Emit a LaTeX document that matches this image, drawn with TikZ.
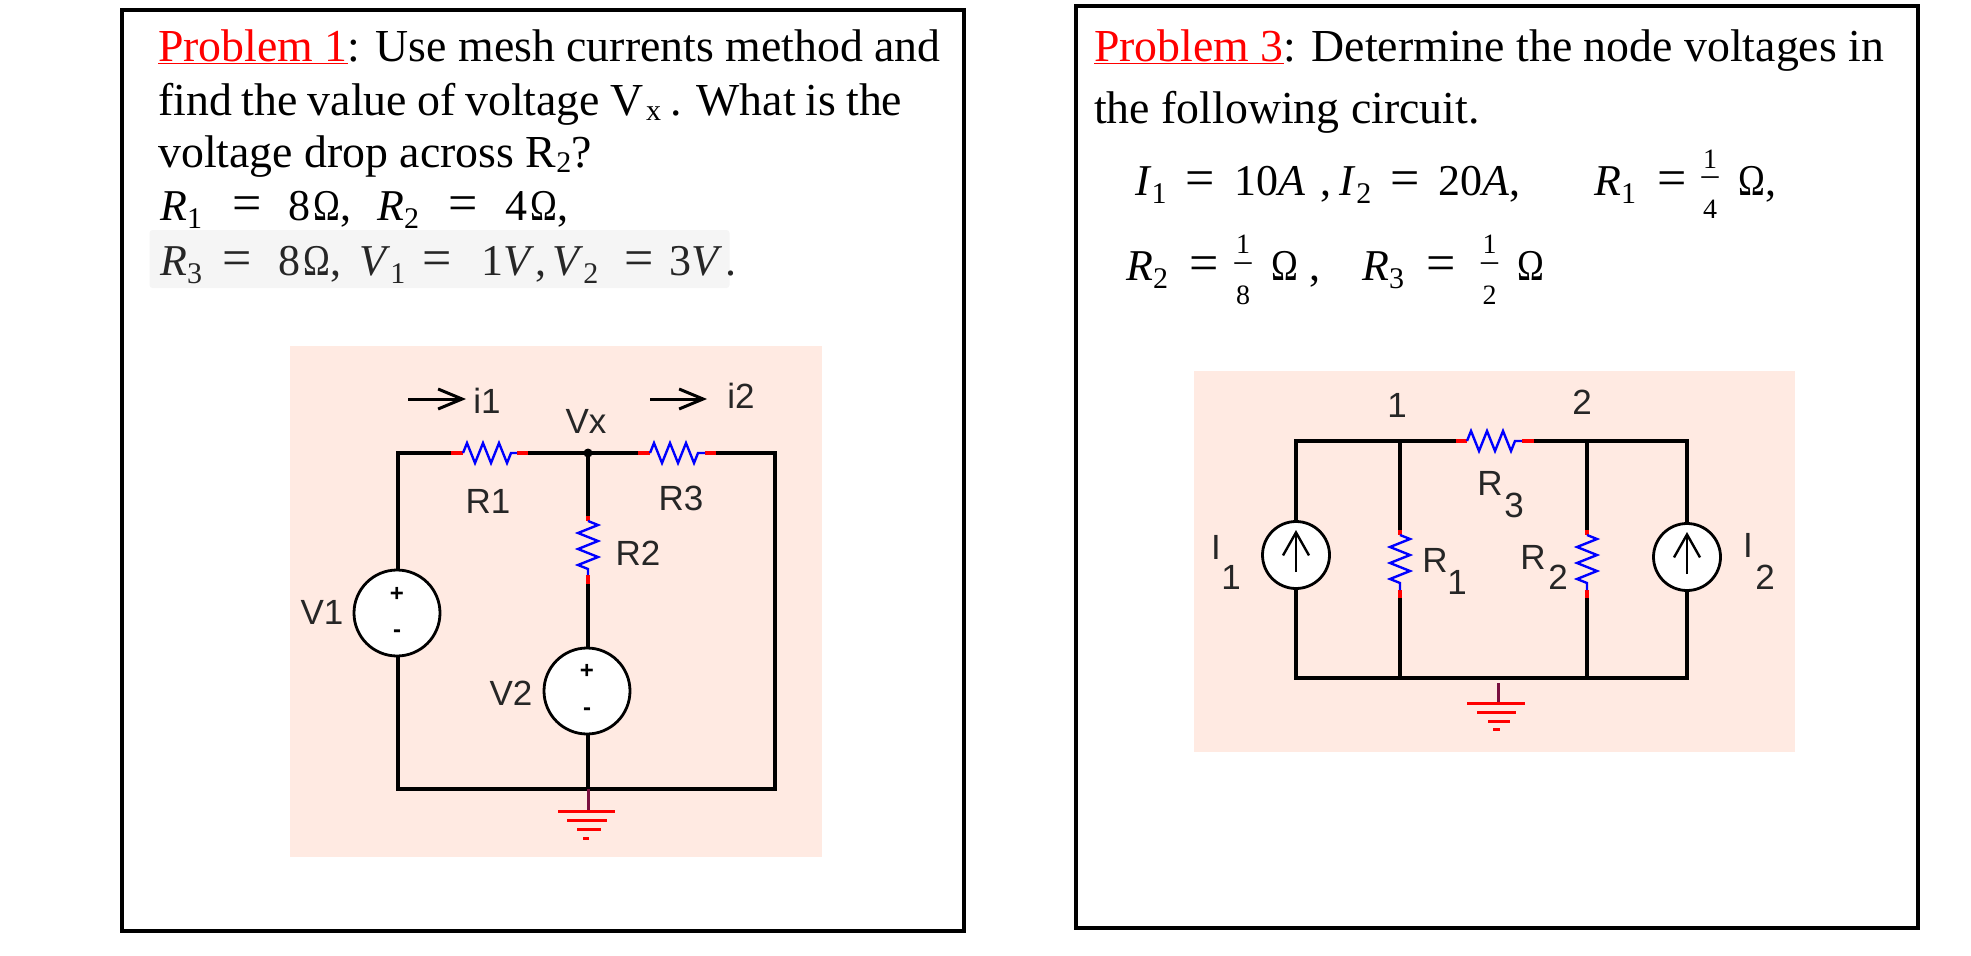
\documentclass[tikz,border=0pt]{standalone}
\usepackage{fontspec}
\setmainfont{Liberation Serif}
\newfontfamily\schemfont{Liberation Sans}
\usepackage{xcolor}
\usepackage{graphicx}
\usepackage{tikz}
\usetikzlibrary{arrows.meta,decorations.pathmorphing}
\definecolor{panecol}{HTML}{FFEAE2}
\definecolor{gndstem}{HTML}{7A1040}
\newcommand{\lowsub}[1]{\raisebox{-0.2em}{\fontsize{30}{30}\selectfont\upshape #1}}
\newcommand{\txtsub}[1]{\raisebox{-0.12em}{\fontsize{30}{30}\selectfont #1}}
\newcommand{\eqsign}{{\fontsize{52}{50}\selectfont\upshape =}}
\newcommand{\ohmsign}{\scalebox{0.82}[1]{Ω}}
\tikzset{
	probline/.style={anchor=base west,inner sep=0pt,font=\fontsize{45.8}{50}\selectfont},
	mathline/.style={anchor=base west,inner sep=0pt,font=\fontsize{44}{50}\selectfont},
	fracdig/.style={inner sep=0pt,font=\fontsize{28}{30}\selectfont},
	fracbar/.style={inner sep=0pt,font=\fontsize{34}{30}\selectfont},
	wire/.style={line width=3.2pt,line join=miter},
	stub/.style={line width=3.2pt,red},
	ressym/.style={line width=2.4pt,blue,decorate,decoration={zigzag,segment length=16pt,amplitude=10pt}},
	source/.style={circle,draw,line width=2.8pt,fill=white,inner sep=0pt},
	schem/.style={inner sep=0pt,font=\schemfont\fontsize{35}{35}\selectfont,text=black!85},
	sign/.style={inner sep=0pt,font=\schemfont\bfseries\fontsize{24}{24}\selectfont},
	gnd/.style={line width=3pt,red},
	barbed/.style={line width=3pt,-{Straight Barb[length=24pt,width=20pt]}}
}
\begin{document}
\begin{tikzpicture}[x=1pt,y=-1pt]
	\useasboundingbox (0,0) rectangle (1971,956);

	% panels
	\node[draw,line width=4pt,minimum width=842pt,minimum height=921pt,inner sep=0pt] (box1) at (543,470.5) {};
	\node[draw,line width=4pt,minimum width=842pt,minimum height=922pt,inner sep=0pt] (box3) at (1497,467) {};
	\node[fill=panecol,minimum width=532pt,minimum height=511pt,inner sep=0pt] (pane1) at (556,601.5) {};
	\node[fill=panecol,minimum width=601pt,minimum height=381pt,inner sep=0pt] (pane3) at (1494.5,561.5) {};
	\node[fill=black!4,rounded corners=3pt,minimum width=580pt,minimum height=58pt,inner sep=0pt] (greybar) at (439.5,259) {};

	% problem 1 text
	\node[probline] (p1a) at (158,61) {\textcolor{red}{\underline{Problem 1}}: Use mesh currents method and};
	\node[probline] (p1b) at (158,115) {\spaceskip=10pt find the value of voltage V\kern3pt\txtsub{x}\kern9pt.\kern15pt What is the};
	\node[probline] (p1c) at (158,167) {voltage drop across R\txtsub{2}?};
	\node[mathline] (p1d) at (160,220) {\textit{R}\lowsub{1}\kern30pt\eqsign\kern27pt 8\kern3pt\ohmsign,};
	\node[mathline] (p1e) at (377,220) {\textit{R}\lowsub{2}\kern29.5pt\eqsign\kern28pt 4\kern3pt\ohmsign,};
	\node[mathline,text=black!85] (p1f) at (160,275) {\textit{R}\lowsub{3}\kern20pt\eqsign\kern27pt 8\kern3pt\ohmsign,};
	\node[mathline,text=black!85] (p1g) at (359,275) {\textit{V}\lowsub{1}\kern17pt\eqsign\kern29.5pt 1\textit{V}\kern1pt,};
	\node[mathline,text=black!85] (p1h) at (552,275) {\textit{V}\lowsub{2}\kern26pt\eqsign\kern16pt 3\textit{V}\kern3pt.};

	% problem 3 text
	\node[probline] (p3a) at (1094,61) {\textcolor{red}{\underline{Problem 3}}: Determine the node voltages in};
	\node[probline] (p3b) at (1094,123) {the following circuit.};
	\node[mathline] (p3c) at (1135,195) {\textit{I}\lowsub{1}\kern19pt\eqsign\kern20pt 10\textit{A}\kern15pt,\kern8pt\textit{I}\lowsub{2}\kern19pt\eqsign\kern19pt 20\textit{A},};
	\node[mathline] (p3d) at (1594,195) {\textit{R}\lowsub{1}\kern21pt\eqsign};
	\node[fracdig] (f1n) at (1710,159) {1};
	\node[fracbar] (f1b) at (1710,181) {–};
	\node[fracdig] (f1d) at (1710,209.5) {4};
	\node[mathline] (p3dw) at (1738.5,195) {\ohmsign,};
	\node[mathline] (p3e) at (1126,280) {\textit{R}\lowsub{2}\kern21.5pt\eqsign};
	\node[fracdig] (f2n) at (1243,244) {1};
	\node[fracbar] (f2b) at (1243,267) {–};
	\node[fracdig] (f2d) at (1243,295) {8};
	\node[mathline] (p3ew) at (1271,280) {\ohmsign\kern11pt,};
	\node[mathline] (p3f) at (1362,280) {\textit{R}\lowsub{3}\kern22pt\eqsign};
	\node[fracdig] (f3n) at (1489.5,244) {1};
	\node[fracbar] (f3b) at (1489.5,267) {–};
	\node[fracdig] (f3d) at (1489.5,295) {2};
	\node[mathline] (p3fw) at (1517,280) {\ohmsign};

	% circuit 1
	\coordinate (tl1) at (398,453);
	\coordinate (tr1) at (775,453);
	\coordinate (bl1) at (398,789);
	\coordinate (br1) at (775,789);
	\coordinate (bm1) at (588,789);
	\coordinate (vx) at (588,453);
	\coordinate (r1a) at (451,453);
	\coordinate (r1b) at (463,453);
	\coordinate (r1c) at (517,453);
	\coordinate (r1d) at (528,453);
	\coordinate (r3a) at (638,453);
	\coordinate (r3b) at (650,453);
	\coordinate (r3c) at (705,453);
	\coordinate (r3d) at (716,453);
	\coordinate (r2a) at (588,516);
	\coordinate (r2b) at (588,521);
	\coordinate (r2c) at (588,575);
	\coordinate (r2d) at (588,584);
	\coordinate (g1a) at (588,811);

	\node[source,minimum size=86pt] (V1) at (397,613) {};
	\node[source,minimum size=86pt] (V2) at (587,691) {};
	\node[sign] (V1p) at (397,594) {+};
	\node[sign] (V1m) at (397,634) {-};
	\node[sign] (V2p) at (587,671) {+};
	\node[sign] (V2m) at (587,712) {-};

	\draw[wire] (V1.north -| tl1) -- (tl1) -- (r1a);
	\draw[wire] (r1d) -- (r3a);
	\draw[wire] (r3d) -- (tr1) -- (br1) -- (bl1) -- (V1.south -| tl1);
	\draw[wire] (vx) -- (r2a);
	\draw[wire] (r2d) -- (V2.north -| r2d);
	\draw[wire] (V2.south -| bm1) -- (bm1);
	\draw[stub] (r1a) -- (r1b);
	\draw[stub] (r1c) -- (r1d);
	\draw[stub] (r3a) -- (r3b);
	\draw[stub] (r3c) -- (r3d);
	\draw[stub] (r2a) -- (r2b);
	\draw[stub] (r2c) -- (r2d);
	\draw[ressym] (r1b) -- (r1c);
	\draw[ressym] (r3b) -- (r3c);
	\draw[ressym] (r2b) -- (r2c);
	\fill (vx) circle (4.5pt);

	\node[schem] (lR1) at (488,501) {R1};
	\node[schem] (lR3) at (681,498) {R3};
	\node[schem] (lR2) at (638,553) {R2};
	\node[schem] (lV1) at (322,612) {V1};
	\node[schem] (lV2) at (511,693) {V2};
	\node[schem] (lVx) at (586,421) {Vx};
	\node[schem] (li1) at (487,401) {i1};
	\node[schem] (li2) at (741,396) {i2};
	\coordinate (i1s) at (408,399);
	\coordinate (i1e) at (466,399);
	\coordinate (i2s) at (650,399);
	\coordinate (i2e) at (707,399);
	\draw[barbed] (i1s) -- (i1e);
	\draw[barbed] (i2s) -- (i2e);

	\draw[line width=3pt,gndstem] (bm1) -- (g1a);
	\coordinate (g1al) at (558,811);
	\coordinate (g1ar) at (615,811);
	\coordinate (g1bl) at (567,820);
	\coordinate (g1br) at (607,820);
	\coordinate (g1cl) at (577,829);
	\coordinate (g1cr) at (601,829);
	\coordinate (g1dl) at (583,838);
	\coordinate (g1dr) at (589,838);
	\draw[gnd] (g1al) -- (g1ar);
	\draw[gnd] (g1bl) -- (g1br);
	\draw[gnd] (g1cl) -- (g1cr);
	\draw[gnd] (g1dl) -- (g1dr);

	% circuit 3
	\coordinate (tl3) at (1296,441);
	\coordinate (tr3) at (1687,441);
	\coordinate (bl3) at (1296,678);
	\coordinate (br3) at (1687,678);
	\coordinate (n1t) at (1400,441);
	\coordinate (n1b) at (1400,678);
	\coordinate (n2t) at (1587,441);
	\coordinate (n2b) at (1587,678);
	\coordinate (rca) at (1456,441);
	\coordinate (rcb) at (1467,441);
	\coordinate (rcc) at (1522,441);
	\coordinate (rcd) at (1534,441);
	\coordinate (raa) at (1400,530);
	\coordinate (rab) at (1400,535);
	\coordinate (rac) at (1400,590);
	\coordinate (rad) at (1400,598);
	\coordinate (rba) at (1587,530);
	\coordinate (rbb) at (1587,535);
	\coordinate (rbc) at (1587,590);
	\coordinate (rbd) at (1587,598);

	\node[source,minimum size=67pt] (I1) at (1296,555) {};
	\node[source,minimum size=67pt] (I2) at (1687,557) {};
	\coordinate (I1a) at (1296,572);
	\coordinate (I1b) at (1296,530);
	\coordinate (I2a) at (1687,574);
	\coordinate (I2b) at (1687,532);
	\draw[line width=2.4pt,-{Straight Barb[length=23pt,width=26pt]}] (I1a) -- (I1b);
	\draw[line width=2.4pt,-{Straight Barb[length=23pt,width=26pt]}] (I2a) -- (I2b);

	\draw[wire] (I1.north) -- (tl3) -- (rca);
	\draw[wire] (rcd) -- (tr3) -- (I2.north);
	\draw[wire] (I1.south) -- (bl3) -- (br3) -- (I2.south);
	\draw[wire] (n1t) -- (raa);
	\draw[wire] (rad) -- (n1b);
	\draw[wire] (n2t) -- (rba);
	\draw[wire] (rbd) -- (n2b);
	\draw[stub] (rca) -- (rcb);
	\draw[stub] (rcc) -- (rcd);
	\draw[stub] (raa) -- (rab);
	\draw[stub] (rac) -- (rad);
	\draw[stub] (rba) -- (rbb);
	\draw[stub] (rbc) -- (rbd);
	\draw[ressym] (rcb) -- (rcc);
	\draw[ressym] (rab) -- (rac);
	\draw[ressym] (rbb) -- (rbc);

	\node[schem] (l1) at (1397,405) {1};
	\node[schem] (l2) at (1582,402) {2};
	\node[schem] (lRc) at (1490,483) {R};
	\node[schem] (lRcs) at (1514,505) {3};
	\node[schem] (lRa) at (1435,560) {R};
	\node[schem] (lRas) at (1457,582) {1};
	\node[schem] (lRb) at (1533,557) {R};
	\node[schem] (lRbs) at (1558,577) {2};
	\node[schem] (lIa) at (1216,547) {I};
	\node[schem] (lIas) at (1231,577) {1};
	\node[schem] (lIb) at (1748,545) {I};
	\node[schem] (lIbs) at (1765,577) {2};

	\coordinate (g3s) at (1498,683);
	\coordinate (g3a) at (1498,703);
	\draw[line width=3pt,gndstem] (g3s) -- (g3a);
	\coordinate (g3al) at (1467,703);
	\coordinate (g3ar) at (1525,703);
	\coordinate (g3bl) at (1477,712);
	\coordinate (g3br) at (1516,712);
	\coordinate (g3cl) at (1488,721);
	\coordinate (g3cr) at (1510,721);
	\coordinate (g3dl) at (1493,729);
	\coordinate (g3dr) at (1500,729);
	\draw[gnd] (g3al) -- (g3ar);
	\draw[gnd] (g3bl) -- (g3br);
	\draw[gnd] (g3cl) -- (g3cr);
	\draw[gnd] (g3dl) -- (g3dr);
\end{tikzpicture}
\end{document}
